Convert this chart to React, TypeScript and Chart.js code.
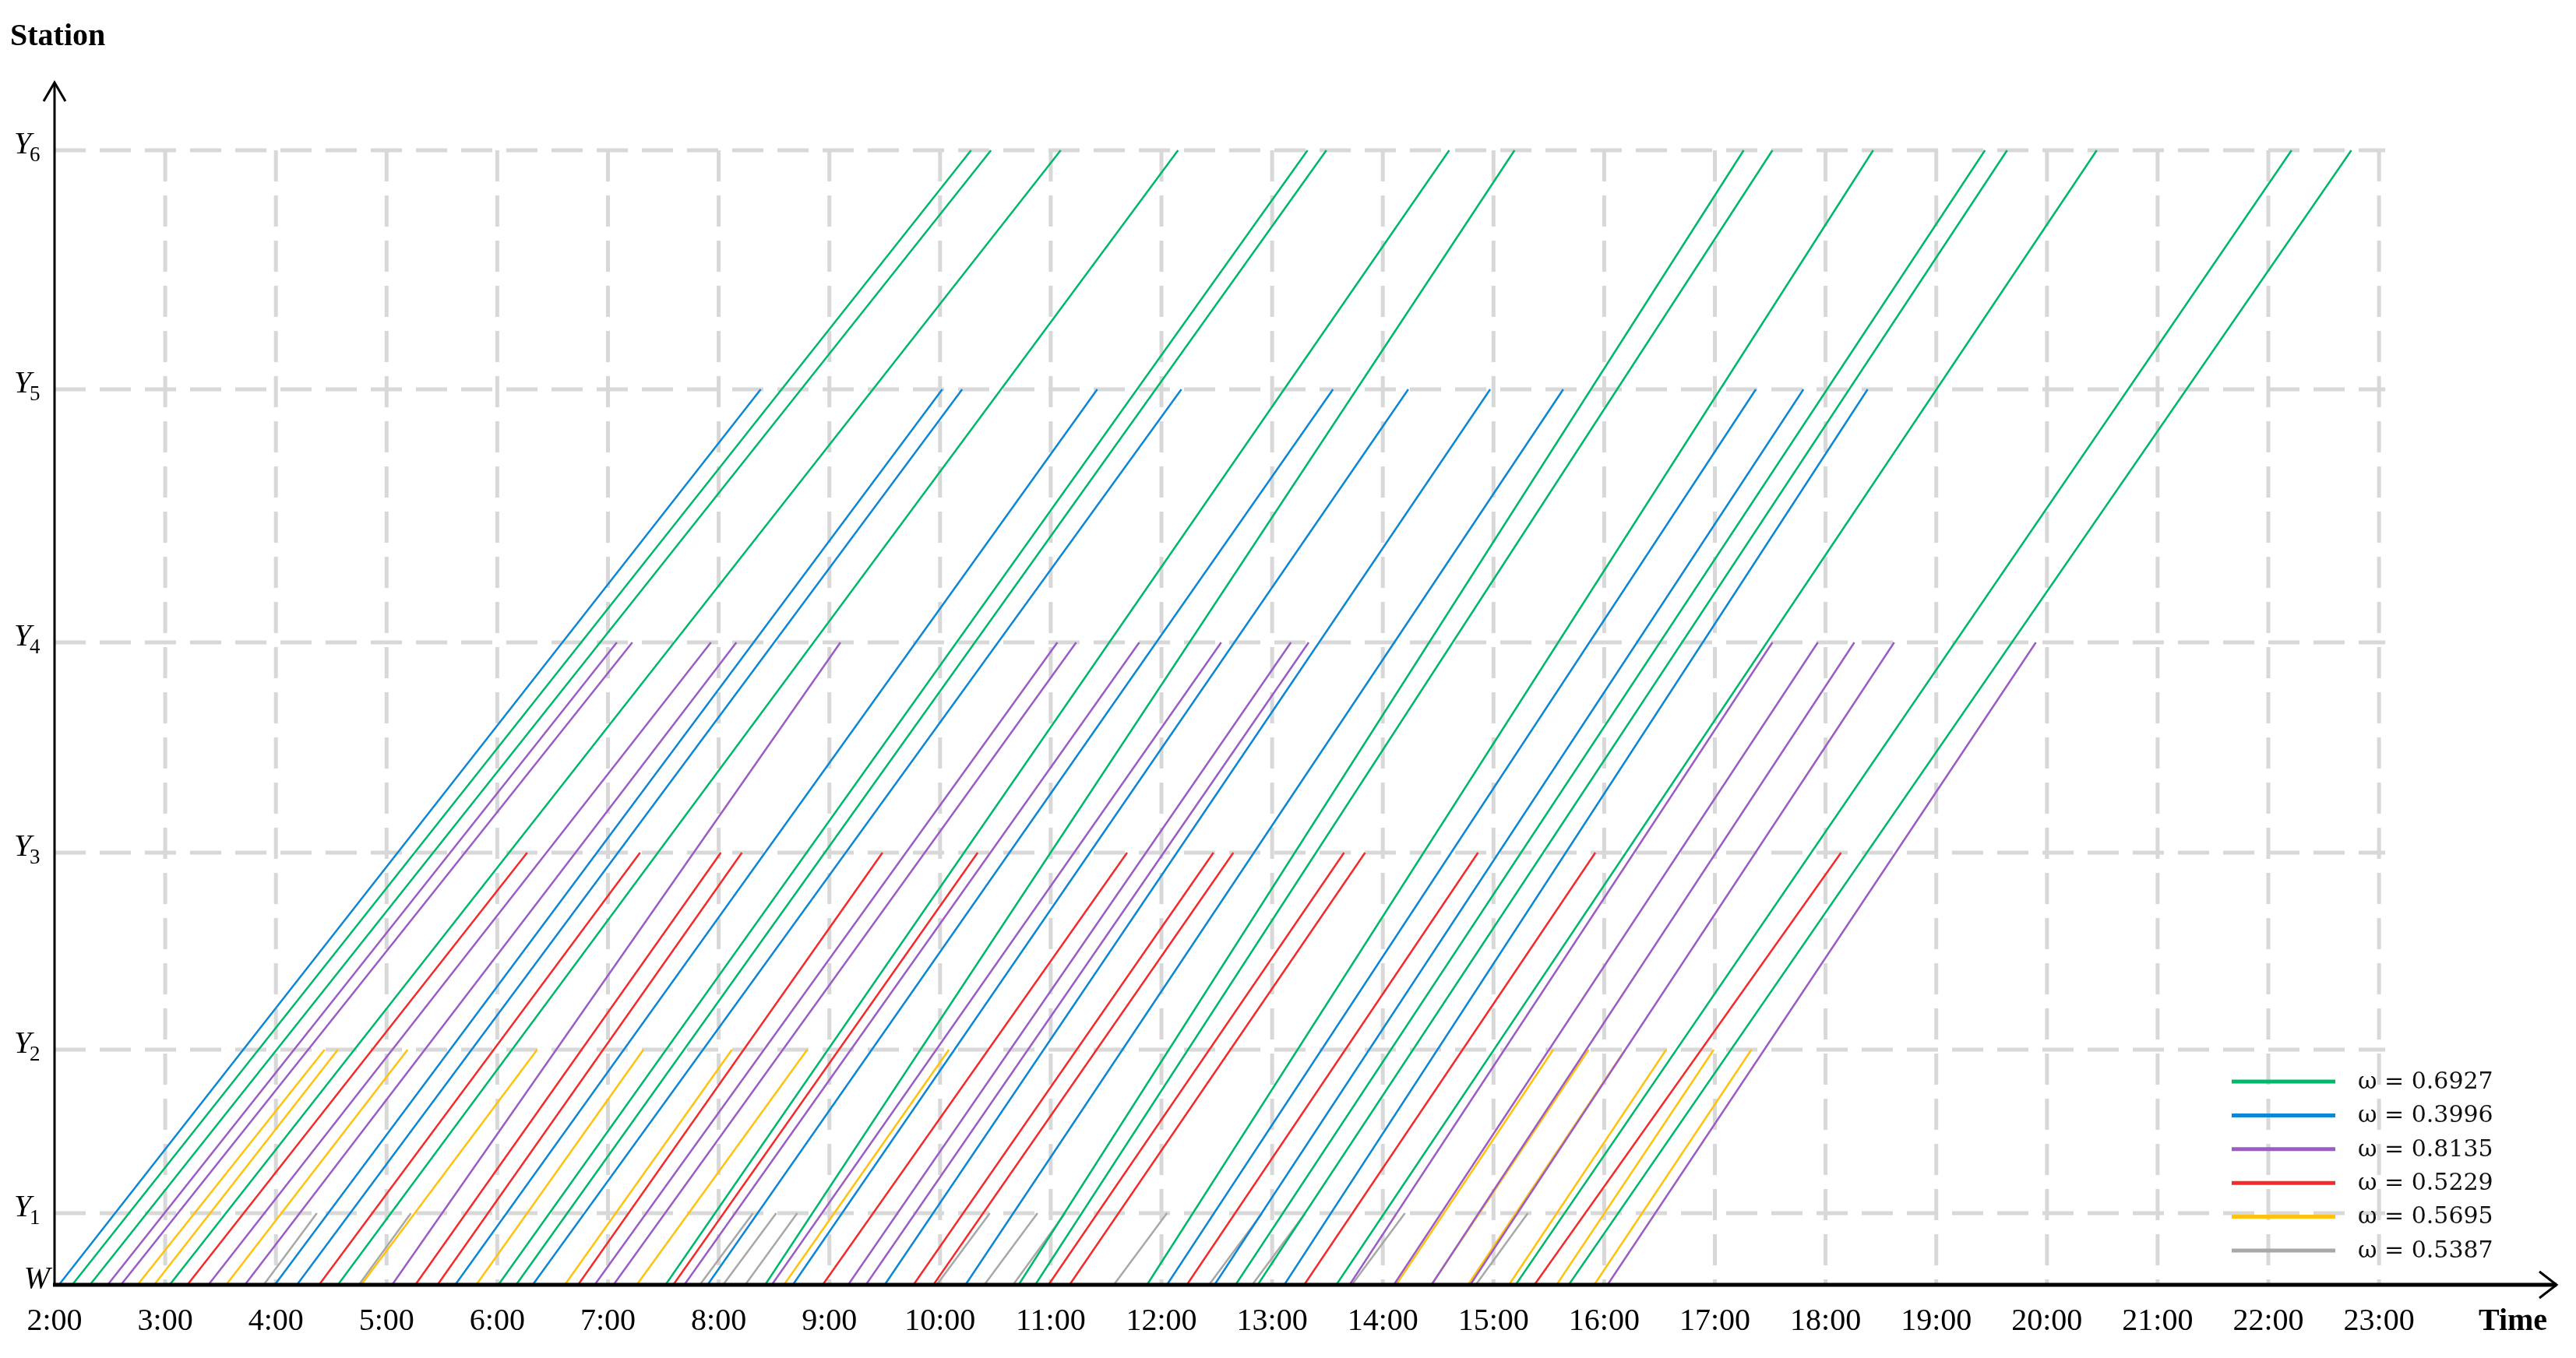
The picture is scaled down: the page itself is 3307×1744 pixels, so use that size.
import React, { useEffect, useRef } from 'react';
import { Chart, registerables } from 'chart.js';

Chart.register(...registerables);

// Stations (relative position along the line, W = origin)
const stationBase = ['W', 'Y', 'Y', 'Y', 'Y', 'Y', 'Y'];
const stationSub = ['', '1', '2', '3', '4', '5', '6'];
const stationPos = [0, 9.2, 30.2, 55.5, 82.5, 115.0, 145.7];

// Time axis
const hourTicks = [2, 3, 4, 5, 6, 7, 8, 9, 10, 11, 12, 13, 14, 15, 16, 17, 18, 19, 20, 21, 22, 23];
const hourLabels = ['2:00', '3:00', '4:00', '5:00', '6:00', '7:00', '8:00', '9:00', '10:00', '11:00', '12:00',
  '13:00', '14:00', '15:00', '16:00', '17:00', '18:00', '19:00', '20:00', '21:00', '22:00', '23:00'];

// Routes (legend)
const omegaValues = ['0.6927', '0.3996', '0.8135', '0.5229', '0.5695', '0.5387'];
const routeColors = ['#00b86b', '#0c87d6', '#9b5cc6', '#f52a2a', '#ffc20e', '#a8a8a8'];
const routeDest = [6, 5, 4, 3, 2, 1];

// Trains: departure from W and arrival at destination (hours)
const greenDepart = [2.16, 2.32, 3.04, 4.56, 6.01, 6.17, 7.52, 8.42, 10.71, 10.86, 11.87, 12.67, 12.87, 13.58, 15.2, 15.68];
const greenArrive = [10.28, 10.46, 11.09, 12.15, 13.32, 13.49, 14.6, 15.19, 17.26, 17.52, 18.43, 19.44, 19.64, 20.45, 22.21, 22.75];

const blueDepart = [2.04, 3.99, 4.19, 5.62, 6.32, 7.9, 8.67, 9.5, 10.23, 12.05, 12.48, 13.11];
const blueArrive = [8.38, 10.02, 10.2, 11.42, 12.18, 13.55, 14.23, 14.97, 15.63, 17.37, 17.8, 18.38];

const purpleDepart = [2.48, 2.6, 3.39, 3.72, 5.05, 6.88, 7.05, 7.69, 8.48, 9.17, 9.33, 13.7, 14.1, 14.44, 14.79, 16.03];
const purpleArrive = [7.08, 7.22, 7.93, 8.16, 9.1, 11.06, 11.23, 11.8, 12.54, 13.17, 13.33, 17.52, 17.93, 18.26, 18.62, 19.9];

const redDepart = [3.2, 4.39, 5.26, 5.46, 6.73, 7.59, 8.94, 9.76, 9.94, 10.98, 11.17, 12.23, 13.29, 15.37];
const redArrive = [6.27, 7.29, 8.02, 8.21, 9.48, 10.34, 11.69, 12.47, 12.65, 13.65, 13.84, 14.86, 15.92, 18.14];

const yellowDepart = [2.75, 2.9, 3.55, 4.77, 5.81, 6.61, 7.26, 8.59, 14.12, 14.44, 14.77, 15.14, 15.57, 15.91];
const yellowArrive = [4.44, 4.56, 5.19, 6.36, 7.32, 8.12, 8.8, 10.08, 15.54, 15.86, 16.19, 16.56, 16.99, 17.33];

const grayDepart = [3.89, 4.75, 7.83, 8.04, 8.24, 9.97, 10.4, 10.66, 11.57, 12.43, 12.82, 13.72, 14.84];
const grayArrive = [4.37, 5.22, 8.31, 8.52, 8.71, 10.45, 10.88, 11.13, 12.05, 12.91, 13.3, 14.2, 15.31];

const departs = [greenDepart, blueDepart, purpleDepart, redDepart, yellowDepart, grayDepart];
const arrives = [greenArrive, blueArrive, purpleArrive, redArrive, yellowArrive, grayArrive];

const GRID_COLOR = '#d8d8d8';
const SERIF = '"Liberation Serif", "Times New Roman", serif';

const diagramPlugin = {
  id: 'trainDiagram',
  beforeDatasetsDraw(chart: any) {
    const { ctx, scales } = chart;
    const x = scales.x;
    const y = scales.y;
    const yTop = y.getPixelForValue(stationPos[stationPos.length - 1]);
    const yBot = y.getPixelForValue(stationPos[0]);
    const x0 = x.getPixelForValue(hourTicks[0]);
    const x1 = x.getPixelForValue(hourTicks[hourTicks.length - 1]);
    ctx.save();
    ctx.strokeStyle = GRID_COLOR;
    ctx.lineWidth = 5;
    ctx.setLineDash([40, 18]);
    hourTicks.forEach((h, i) => {
      if (i === 0) return;
      const px = x.getPixelForValue(h);
      ctx.beginPath();
      ctx.moveTo(px, yTop);
      ctx.lineTo(px, yBot);
      ctx.stroke();
    });
    stationPos.forEach((s, i) => {
      if (i === 0) return;
      const py = y.getPixelForValue(s);
      ctx.beginPath();
      ctx.moveTo(x0, py);
      ctx.lineTo(x1 + 8, py);
      ctx.stroke();
    });
    ctx.restore();
  },
  afterDatasetsDraw(chart: any) {
    const { ctx, scales, chartArea } = chart;
    const x = scales.x;
    const y = scales.y;
    const x0 = x.getPixelForValue(hourTicks[0]);
    const yBot = y.getPixelForValue(stationPos[0]);
    ctx.save();
    ctx.setLineDash([]);
    ctx.strokeStyle = '#000';
    ctx.fillStyle = '#000';
    // x axis
    const tipX = chartArea.right - 8;
    ctx.lineWidth = 5;
    ctx.beginPath();
    ctx.moveTo(x0 - 2, yBot);
    ctx.lineTo(tipX, yBot);
    ctx.stroke();
    ctx.lineWidth = 3;
    ctx.beginPath();
    ctx.moveTo(tipX - 22, yBot - 17);
    ctx.lineTo(tipX, yBot);
    ctx.lineTo(tipX - 22, yBot + 17);
    ctx.stroke();
    // y axis
    const tipY = chartArea.top;
    ctx.lineWidth = 3;
    ctx.beginPath();
    ctx.moveTo(x0, yBot);
    ctx.lineTo(x0, tipY);
    ctx.stroke();
    ctx.beginPath();
    ctx.moveTo(x0 - 14, tipY + 24);
    ctx.lineTo(x0, tipY);
    ctx.lineTo(x0 + 14, tipY + 24);
    ctx.stroke();

    // x tick labels
    ctx.font = `40px ${SERIF}`;
    ctx.textAlign = 'center';
    ctx.textBaseline = 'alphabetic';
    hourTicks.forEach((h, i) => {
      ctx.fillText(hourLabels[i], x.getPixelForValue(h), yBot + 58);
    });
    ctx.font = `bold 40px ${SERIF}`;
    ctx.fillText('Time', 3226, yBot + 58);
    ctx.textAlign = 'left';
    ctx.fillText('Station', 13, 58);

    // station labels
    stationPos.forEach((s, i) => {
      const py = y.getPixelForValue(s);
      if (stationSub[i] === '') {
        ctx.font = `italic 40px ${SERIF}`;
        ctx.textAlign = 'right';
        ctx.fillText(stationBase[i], x0 - 6, py + 4);
      } else {
        ctx.font = `italic 40px ${SERIF}`;
        ctx.textAlign = 'left';
        ctx.fillText(stationBase[i], 18, py + 4);
        ctx.font = `27px ${SERIF}`;
        ctx.fillText(stationSub[i], 38, py + 14);
      }
    });

    // legend
    ctx.font = `30px "DejaVu Serif", serif`;
    ctx.textAlign = 'left';
    ctx.textBaseline = 'middle';
    omegaValues.forEach((w, i) => {
      const ly = 1389 + i * 43.4;
      ctx.strokeStyle = routeColors[i];
      ctx.lineWidth = 5;
      ctx.beginPath();
      ctx.moveTo(2865, ly);
      ctx.lineTo(2998, ly);
      ctx.stroke();
      ctx.fillStyle = '#111';
      ctx.fillText(`\u03c9 = ${w}`, 3027, ly + 1);
    });
    ctx.restore();
  },
};

export default function App() {
  const canvasRef = useRef<HTMLCanvasElement | null>(null);

  useEffect(() => {
    if (!canvasRef.current) return;
    const datasets = departs.map((dep, r) => ({
      label: `\u03c9 = ${omegaValues[r]}`,
      data: dep.flatMap((d, i) => [
        { x: d, y: stationPos[0] },
        { x: arrives[r][i], y: stationPos[routeDest[r]] },
        { x: arrives[r][i], y: null },
      ]),
      borderColor: routeColors[r],
      backgroundColor: routeColors[r],
      borderWidth: 2.5,
      pointRadius: 0,
      fill: false,
      spanGaps: false,
      tension: 0,
    }));

    const chart = new Chart(canvasRef.current, {
      type: 'line',
      data: { datasets } as any,
      options: {
        animation: false,
        responsive: true,
        maintainAspectRatio: false,
        parsing: true,
        layout: { padding: { left: 70, right: 17, top: 106, bottom: 94 } },
        plugins: { legend: { display: false }, tooltip: { enabled: false } },
        scales: {
          x: { type: 'linear', min: 2, max: 24.66, display: false },
          y: { type: 'linear', min: 0, max: 154.4, display: false },
        },
      },
      plugins: [diagramPlugin],
    });
    return () => chart.destroy();
  }, []);

  return (
    <div style={{ position: 'fixed', left: 0, top: 0, width: '100vw', height: '100vh', background: '#fff' }}>
      <canvas ref={canvasRef} />
    </div>
  );
}
